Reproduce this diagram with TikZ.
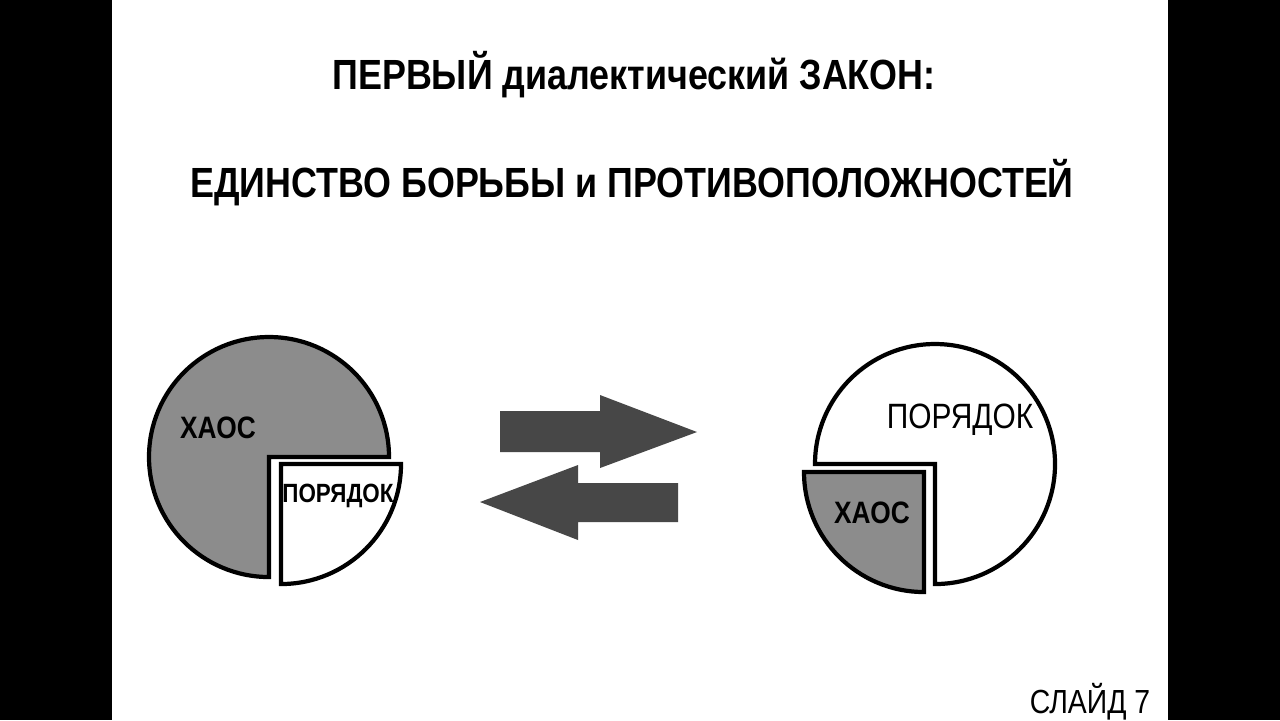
\documentclass[tikz,border=0pt]{standalone}
\usepackage{fontspec}
\setmainfont{Liberation Sans}
\begin{document}
\begin{tikzpicture}[x=0.01cm,y=-0.01cm,
    slice/.style={draw=black,line width=1.2pt},
    arrowbody/.style={fill=black!72,draw=none},
    title/.style={font=\bfseries\fontsize{12}{14}\selectfont,xscale=0.85},
    lbl/.style={font=\bfseries\fontsize{8.8}{10}\selectfont,xscale=0.85}]
  \useasboundingbox (0,0) rectangle (1280,720);
  \fill[black] (0,0) rectangle (1280,720);
  \fill[white] (112,0) rectangle (1168,720);
  \node[title] (line1) at (634,75) {ПЕРВЫЙ диалектический ЗАКОН:};
  \node[title] (line2) at (632,183) {ЕДИНСТВО БОРЬБЫ и ПРОТИВОПОЛОЖНОСТЕЙ};
  % left pie
  \coordinate (lc) at (269,457);
  \draw[slice,fill=black!45] (lc) -- ++(0,120) arc[start angle=270,end angle=-0,x radius=120,y radius=-120] -- cycle;
  \draw[slice,fill=white] (281,464) -- ++(120,0) arc[start angle=0,end angle=-90,x radius=120,y radius=-120] -- cycle;
  \node[lbl] (chaosL) at (218,428) {ХАОС};
  \node[lbl,font=\bfseries\fontsize{7.5}{9}\selectfont] (orderL) at (338,496) {ПОРЯДОК};
  % arrows
  \fill[arrowbody] (500,411) -- (600,411) -- (600,395) -- (697,432) -- (600,468) -- (600,452) -- (500,452) -- cycle;
  \fill[arrowbody] (678,483) -- (578,483) -- (578,465) -- (480,502) -- (578,540) -- (578,522) -- (678,522) -- cycle;
  % right pie
  \coordinate (rc) at (935,464);
  \draw[slice,fill=white] (rc) -- ++(-120,0) arc[start angle=180,end angle=-90,x radius=120,y radius=-120] -- cycle;
  \draw[slice,fill=black!45] (924,472) -- ++(0,120) arc[start angle=270,end angle=180,x radius=120,y radius=-120] -- cycle;
  \node[font=\fontsize{10}{12}\selectfont,xscale=0.85] (orderR) at (960,420) {ПОРЯДОК};
  \node[lbl] (chaosR) at (872,513) {ХАОС};
  \node[font=\fontsize{9.5}{11}\selectfont,xscale=0.85] (slide) at (1090,702) {СЛАЙД 7};
\end{tikzpicture}
\end{document}
